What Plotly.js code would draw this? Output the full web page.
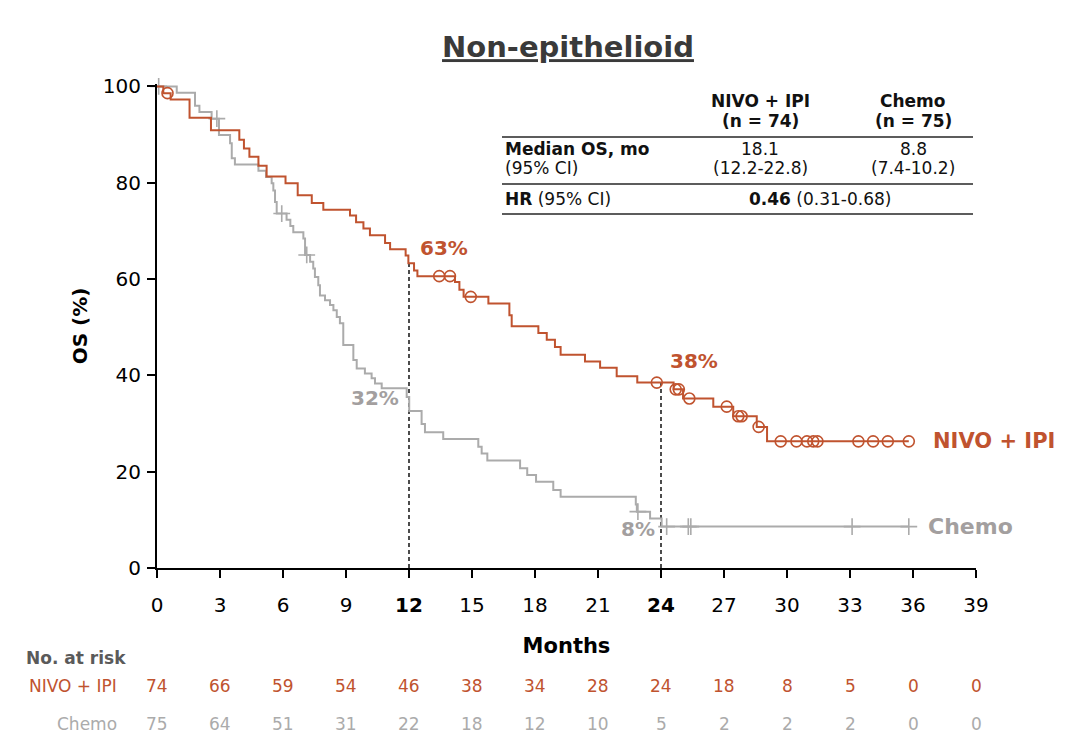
<!DOCTYPE html>
<html>
<head>
<meta charset="utf-8">
<script src="https://cdn.plot.ly/plotly-3.0.1.min.js"></script>
<style>
  html, body { margin: 0; padding: 0; background: #ffffff; }
  #chart { width: 1080px; height: 746px; }
</style>
</head>
<body>
<div id="chart"></div>
<script>
// Kaplan-Meier overall survival, non-epithelioid subgroup

// Step curve for NIVO + IPI: event times (months) and survival (%)
const nivoTime = [0, 0.3, 0.65, 1.55, 2.57, 3.92, 4.14, 4.4, 4.83, 5.22, 6.12, 6.7, 7.37, 7.92,
  9.19, 9.48, 9.83, 10.14, 10.86, 11.1, 11.84, 11.97, 12.24, 12.4, 14.19, 14.4, 14.6, 15.78,
  16.78, 16.89, 18.16, 18.56, 18.95, 19.22, 20.38, 21.1, 21.89, 22.87, 24.6, 25.05, 26.49,
  27.44, 28.56, 29.05, 35.8];
const nivoSurv = [100, 98.6, 97.3, 93.5, 90.9, 88.9, 87.1, 85.4, 83.5, 81.3, 79.9, 77.4, 75.8, 74.4,
  73.2, 71.8, 70.5, 69.1, 67.5, 66.2, 64.9, 63.3, 61.8, 60.6, 59.4, 57.8, 56.3, 54.9,
  52.5, 50.2, 48.8, 47.4, 45.9, 44.3, 42.9, 41.6, 39.8, 38.5, 37.1, 35.2, 33.5,
  31.5, 29.3, 26.3, 26.3];
// Censoring times for NIVO + IPI
const nivoCensor = [0.5, 13.44, 13.95, 14.94, 23.8, 24.7, 24.85, 25.35, 27.13, 27.68, 27.84,
  28.65, 29.7, 30.45, 30.95, 31.25, 31.45, 33.4, 34.1, 34.8, 35.8];

// Step curve for Chemo
const chemoTime = [0, 0.94, 1.81, 2.02, 2.6, 2.95, 3.48, 3.56, 3.71, 4.83, 5.19, 5.46, 5.54, 5.62,
  5.7, 6.17, 6.35, 6.49, 6.97, 7.05, 7.29, 7.44, 7.52, 7.68, 7.76, 8.0, 8.24, 8.4, 8.56, 8.71,
  8.87, 9.35, 9.51, 9.9, 10.22, 10.38, 10.7, 11.89, 12.01, 12.6, 12.76, 13.63, 15.3, 15.46,
  15.73, 17.29, 17.63, 18.05, 18.87, 19.22, 22.8, 22.85, 23.48, 24.03, 35.8];
const chemoSurv = [100, 98.7, 96.0, 94.7, 93.3, 89.9, 88.2, 85.1, 83.8, 82.5, 81.2, 79.9, 78.4, 76.0,
  73.6, 72.3, 71.0, 69.7, 68.4, 65.0, 63.6, 62.2, 60.4, 58.7, 56.6, 55.6, 54.6, 53.5, 52.1, 50.8,
  46.3, 43.2, 41.4, 40.4, 39.4, 38.3, 37.3, 35.5, 32.6, 29.9, 28.2, 26.8, 25.2, 23.8,
  22.3, 20.7, 19.3, 17.9, 16.2, 14.8, 13.2, 11.7, 10.3, 8.6, 8.6];
// Censoring times for Chemo
const chemoCensor = [0.08, 2.85, 5.94, 7.13, 22.9, 24.27, 25.3, 25.42, 33.1, 35.8];

// Landmark estimates at 12 and 24 months
const landmarkMonths = [12, 24];
const nivoLandmark = [63, 38];
const chemoLandmark = [32, 8];

// Axis ticks and number at risk
const monthTicks = [0, 3, 6, 9, 12, 15, 18, 21, 24, 27, 30, 33, 36, 39];
const boldTicks = [12, 24];
const osTicks = [0, 20, 40, 60, 80, 100];
const riskNivo = [74, 66, 59, 54, 46, 38, 34, 28, 24, 18, 8, 5, 0, 0];
const riskChemo = [75, 64, 51, 31, 22, 18, 12, 10, 5, 2, 2, 2, 0, 0];

// Summary table
const armHeaders = ['NIVO + IPI', 'Chemo'];
const armN = [74, 75];
const medianOS = ['18.1', '8.8'];
const medianCI = ['(12.2-22.8)', '(7.4-10.2)'];
const hrValue = '0.46';
const hrCI = '(0.31-0.68)';

const ORANGE = '#C0532F';
const GREY_LINE = '#ABABAB';
const GREY_TEXT = '#A39F9F';
const FONT = '"DejaVu Sans", Verdana, sans-serif';

// Survival value of a step curve at time t
function stepValue(times, surv, t) {
  let v = surv[0];
  for (let i = 0; i < times.length; i++) {
    if (times[i] <= t) v = surv[i]; else break;
  }
  return v;
}

// Plot-area geometry helpers (pixel -> paper)
const M = { l: 157, r: 104, t: 84, b: 178 };
const PW = 1080 - M.l - M.r, PH = 746 - M.t - M.b;
const px = x => (x - M.l) / PW;
const py = y => (746 - M.b - y) / PH;

const traces = [];

// dashed landmark guides
landmarkMonths.forEach((m, i) => {
  traces.push({
    x: [m, m], y: [0, stepValue(nivoTime, nivoSurv, m)],
    mode: 'lines', line: { color: '#000', width: 1.4, dash: '4px,3px' },
    hoverinfo: 'skip', showlegend: false
  });
});

traces.push({
  x: chemoTime, y: chemoSurv, mode: 'lines',
  line: { color: GREY_LINE, width: 2, shape: 'hv' }, showlegend: false
});
traces.push({
  x: chemoCensor, y: chemoCensor.map(t => stepValue(chemoTime, chemoSurv, t)),
  mode: 'markers', cliponaxis: false,
  marker: { symbol: 'cross-thin-open', size: 12, color: GREY_LINE, line: { color: GREY_LINE, width: 1.6 } },
  showlegend: false
});
traces.push({
  x: nivoTime, y: nivoSurv, mode: 'lines',
  line: { color: ORANGE, width: 2, shape: 'hv' }, showlegend: false
});
traces.push({
  x: nivoCensor, y: nivoCensor.map(t => stepValue(nivoTime, nivoSurv, t)),
  mode: 'markers', cliponaxis: false,
  marker: { symbol: 'circle-open', size: 11, color: ORANGE, line: { color: ORANGE, width: 1.6 } },
  showlegend: false
});

const annotations = [];

// landmark percentages
landmarkMonths.forEach((m, i) => {
  const nv = stepValue(nivoTime, nivoSurv, m);
  const cv = stepValue(chemoTime, chemoSurv, m);
  annotations.push({
    x: m, y: nv, xref: 'x', yref: 'y', text: '<b>' + nivoLandmark[i] + '%</b>',
    showarrow: false, xanchor: 'left', yanchor: 'middle',
    xshift: i === 0 ? 9 : 7, yshift: i === 0 ? 15 : 22,
    font: { family: FONT, size: 20, color: ORANGE }
  });
  annotations.push({
    x: m, y: cv, xref: 'x', yref: 'y', text: '<b>' + chemoLandmark[i] + '%</b>',
    showarrow: false, xanchor: 'right', yanchor: 'middle',
    xshift: i === 0 ? -8 : -4, yshift: i === 0 ? -1 : -11,
    font: { family: FONT, size: 20, color: GREY_TEXT }
  });
});

// curve end labels
annotations.push({
  x: nivoTime[nivoTime.length - 1], y: nivoSurv[nivoSurv.length - 1], xref: 'x', yref: 'y',
  text: '<b>NIVO + IPI</b>', showarrow: false, xanchor: 'left', yanchor: 'middle', xshift: 22,
  font: { family: FONT, size: 21, color: ORANGE }
});
annotations.push({
  x: chemoTime[chemoTime.length - 1], y: chemoSurv[chemoSurv.length - 1], xref: 'x', yref: 'y',
  text: '<b>Chemo</b>', showarrow: false, xanchor: 'left', yanchor: 'middle', xshift: 17,
  font: { family: FONT, size: 22, color: GREY_TEXT }
});

// number at risk
annotations.push({
  x: px(24), y: 0, xref: 'paper', yref: 'paper', text: '<b>No. at risk</b>', showarrow: false,
  xanchor: 'left', yanchor: 'middle', yshift: -90,
  font: { family: FONT, size: 17, color: '#5a5a5a' }
});
annotations.push({
  x: px(119), y: 0, xref: 'paper', yref: 'paper', text: 'NIVO + IPI', showarrow: false,
  xanchor: 'right', yanchor: 'middle', yshift: -118,
  font: { family: FONT, size: 17, color: ORANGE }
});
annotations.push({
  x: px(119), y: 0, xref: 'paper', yref: 'paper', text: 'Chemo', showarrow: false,
  xanchor: 'right', yanchor: 'middle', yshift: -156,
  font: { family: FONT, size: 17, color: GREY_LINE }
});
monthTicks.forEach((m, i) => {
  annotations.push({
    x: m, y: 0, xref: 'x', yref: 'paper', text: String(riskNivo[i]), showarrow: false,
    xanchor: 'center', yanchor: 'middle', yshift: -118,
    font: { family: FONT, size: 17, color: ORANGE }
  });
  annotations.push({
    x: m, y: 0, xref: 'x', yref: 'paper', text: String(riskChemo[i]), showarrow: false,
    xanchor: 'center', yanchor: 'middle', yshift: -156,
    font: { family: FONT, size: 17, color: GREY_LINE }
  });
});

// summary table
const colX = [760, 913];
const tFont = { family: FONT, size: 17, color: '#111' };
const cell = (x, y, text, anchor) => annotations.push({
  x: px(x), y: py(y), xref: 'paper', yref: 'paper', text: text, showarrow: false,
  xanchor: anchor || 'center', yanchor: 'middle', font: tFont
});
armHeaders.forEach((h, i) => {
  cell(colX[i], 101, '<b>' + h + '</b>');
  cell(colX[i], 121, '<b>(n = ' + armN[i] + ')</b>');
  cell(colX[i], 149, medianOS[i]);
  cell(colX[i], 168, medianCI[i]);
});
cell(503, 149, '<b>Median OS, mo</b>', 'left');
cell(503, 168, '(95% CI)', 'left');
cell(503, 199, '<b>HR</b> (95% CI)', 'left');
cell(820, 199, '<b>' + hrValue + '</b> ' + hrCI);

const shapes = [137, 184, 214].map(y => ({
  type: 'line', xref: 'paper', yref: 'paper', x0: px(502), x1: px(973), y0: py(y), y1: py(y),
  line: { color: '#5c5c5c', width: 2 }
}));

const layout = {
  width: 1080, height: 746,
  margin: M,
  paper_bgcolor: '#ffffff', plot_bgcolor: '#ffffff',
  font: { family: FONT, color: '#000' },
  title: {
    text: '<b><u>Non-epithelioid</u></b>',
    x: px(568), xref: 'paper', xanchor: 'center',
    y: 1 - 47 / 746, yanchor: 'middle',
    font: { family: FONT, size: 29, color: '#3a3a3a' }
  },
  xaxis: {
    range: [0, 39], tickvals: monthTicks,
    ticktext: monthTicks.map(m => boldTicks.includes(m) ? '<b>' + m + '</b>' : String(m)),
    showline: true, linecolor: '#000', linewidth: 2,
    ticks: 'outside', ticklen: 8, tickwidth: 2, tickcolor: '#000',
    ticklabelstandoff: 10,
    showgrid: false, zeroline: false,
    tickfont: { family: FONT, size: 20, color: '#000' },
    title: { text: '<b>Months</b>', standoff: 22, font: { family: FONT, size: 21, color: '#000' } },
    fixedrange: true
  },
  yaxis: {
    range: [0, 100.5], tickvals: osTicks,
    showline: true, linecolor: '#000', linewidth: 2,
    ticks: 'outside', ticklen: 8, tickwidth: 2, tickcolor: '#000',
    ticklabelstandoff: 2,
    showgrid: false, zeroline: false,
    tickfont: { family: FONT, size: 20, color: '#000' },
    title: { text: '<b>OS (%)</b>', standoff: 10, font: { family: FONT, size: 20, color: '#000' } },
    fixedrange: true
  },
  annotations: annotations,
  shapes: shapes,
  showlegend: false
};

Plotly.newPlot('chart', traces, layout, { displayModeBar: false, staticPlot: true });
</script>
</body>
</html>
